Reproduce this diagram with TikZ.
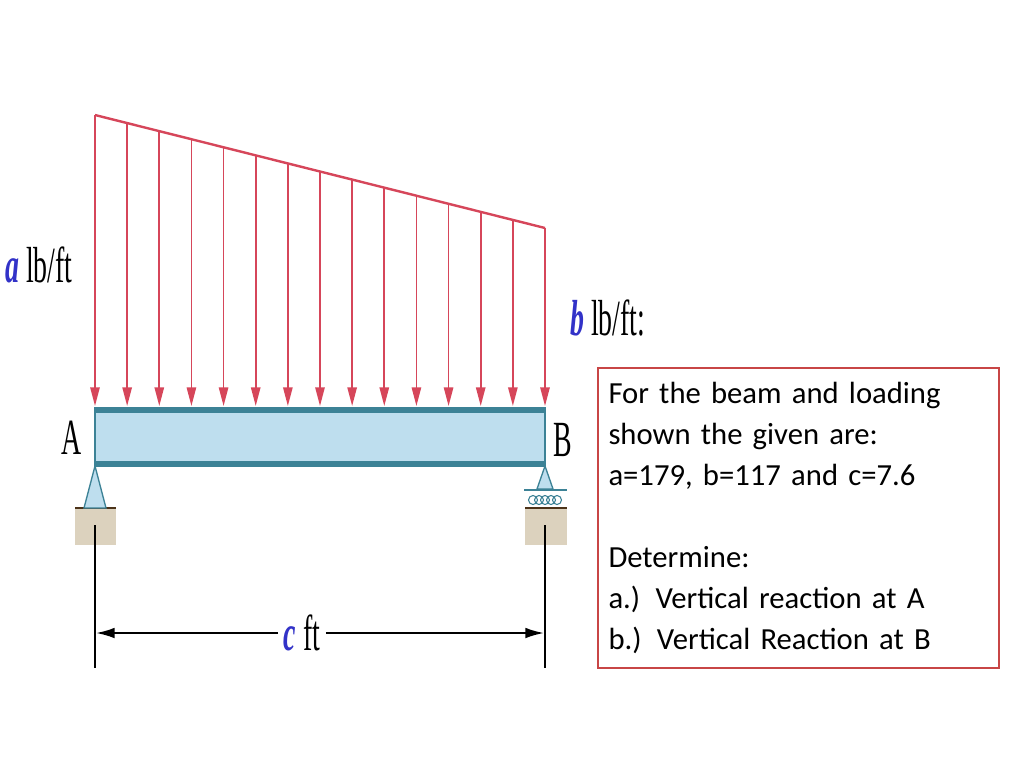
\documentclass[tikz,border=0pt]{standalone}
\usepackage{fontspec}
\setmainfont{Liberation Serif}
\newfontfamily\condfont[FakeStretch=0.55]{Liberation Serif}
\newfontfamily\boxfont{Carlito}
\usetikzlibrary{arrows.meta}
\definecolor{loadred}{RGB}{214,70,90}
\definecolor{beamedge}{RGB}{60,130,150}
\definecolor{beamfill}{RGB}{190,222,238}
\definecolor{groundc}{RGB}{220,210,190}
\definecolor{boxred}{RGB}{200,70,70}
\definecolor{labblue}{RGB}{50,50,200}
\tikzset{
 loadarrow/.style={loadred,line width=1.3pt,-{Triangle[length=14pt,width=7pt]}},
 lab/.style={inner sep=0pt,font=\condfont\fontsize{38}{40}\selectfont},
}
\begin{document}
\begin{tikzpicture}[x=0.75pt,y=-0.75pt]
\useasboundingbox (0,0) rectangle (1024,768);
\fill[white] (0,0) rectangle (1024,768);
% load
\draw[loadred,line width=1.8pt] (95,115) -- (545,228);
\foreach \i in {0,...,14}{
  \pgfmathsetmacro\xx{95+\i*450/14}
  \pgfmathsetmacro\yy{115+\i*113/14}
  \draw[loadarrow] (\xx,\yy) -- (\xx,406);
}
% beam
\node[draw=beamedge,line width=1.5pt,fill=beamfill,minimum width=450*0.75pt,minimum height=58*0.75pt,inner sep=0pt] (beam) at (320,437) {};
\draw[beamedge,line width=2.5pt] (96,411) -- (544,411) (96,463) -- (544,463);
% support A
\fill[groundc] (75,508) rectangle (116,545);
\draw[black!60!brown,line width=1.5pt] (75,508) -- (116,508);
\draw[beamedge,fill=beamfill,line width=1pt] (95,466) -- (84,508) -- (106,508) -- cycle;
% support B
\fill[groundc] (525,508) rectangle (567,545);
\draw[black!60!brown,line width=1.5pt] (525,508) -- (567,508);
\draw[beamedge,fill=beamfill,line width=1pt] (545,466) -- (537,489) -- (553,489) -- cycle;
\draw[beamedge,line width=1.5pt] (524,490) -- (567,490);
\foreach \c in {533,539,545,551,557}{\draw[beamedge,line width=0.8pt] (\c,500) circle[radius=4.5*0.75pt];}
% labels
\node[lab] (A) at (72,438) {A};
\node[lab] (B) at (563,440) {B};
\node[lab,anchor=west] (al) at (5,265) {\textcolor{labblue}{\bfseries\itshape a} lb/ft};
\node[lab,anchor=west] (bl) at (570,318) {\textcolor{labblue}{\bfseries\itshape b} lb/ft:};
% dimension
\coordinate (d1) at (95,525); \coordinate (d2) at (95,668);
\coordinate (d3) at (545,525); \coordinate (d4) at (545,668);
\draw[line width=1pt] (d1) -- (d2) (d3) -- (d4);
\node[lab,fill=white,inner xsep=4pt] (cl) at (302,633) {\textcolor{labblue}{\bfseries\itshape c} ft};
\coordinate (l) at (96,633); \coordinate (r) at (544,633);
\draw[line width=1.5pt,-{Latex[length=14pt,width=8pt]}] (cl.west) -- (l);
\draw[line width=1.5pt,-{Latex[length=14pt,width=8pt]}] (cl.east) -- (r);
% box
\node[draw=boxred,line width=1.5pt,anchor=north west,minimum width=401*0.75pt,minimum height=300*0.75pt,text width=380*0.75pt,align=left,inner xsep=4pt,inner ysep=6pt,font=\boxfont\fontsize{23}{30.8}\selectfont] (info) at (597,367) {For the beam and loading\\shown the given are:\\a=179, b=117 and c=7.6\\[30.8pt]Determine:\\a.) Vertical reaction at A\\b.) Vertical Reaction at B};
\end{tikzpicture}
\end{document}
